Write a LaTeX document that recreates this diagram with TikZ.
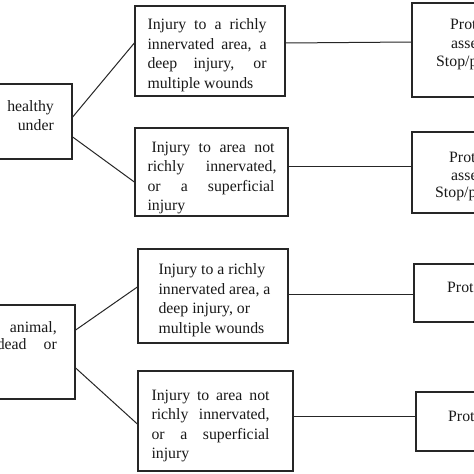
\documentclass[tikz,border=0pt]{standalone}
\usepackage{fontspec}
\setmainfont{Liberation Serif}
\usetikzlibrary{positioning}
\newcommand{\jline}[2]{\makebox[#1][s]{#2}}
\newcommand{\plainsp}{\spaceskip=0pt\xspaceskip=0pt\relax}
\begin{document}
\begin{tikzpicture}[x=1pt,y=-1pt,
    box/.style={draw=black!85, line width=1.3pt, rectangle, inner sep=0pt},
    txt/.style={font=\fontsize{15.8}{19.5}\selectfont, inner sep=0pt, text=black!90},
    para/.style={txt, anchor=north west, align=left},
    link/.style={draw=black!85, line width=1pt}]
    \clip (0,0) rectangle (474,474);
    \fill[white] (0,0) rectangle (474,474);
    % left boxes
    \node[box, minimum width=152pt, minimum height=75pt] (L1) at (-4,121.5) {};
    \node[txt, anchor=base east] (L1a) at (54,111) {healthy};
    \node[txt, anchor=base east] (L1b) at (54,130) {under};
    \node[box, minimum width=155pt, minimum height=94pt] (L2) at (-2.5,352) {};
    \node[txt, anchor=base east] (L2a) at (57,332.5) {animal,};
    \node[txt, anchor=base east] (L2b) at (57,349.5) {\plainsp\jline{60pt}{dead or}};
    % middle boxes
    \node[box, minimum width=150pt, minimum height=90pt] (M1) at (210,51) {};
    \node[para, text width=119pt] (M1t) at ([xshift=13pt,yshift=-13pt]M1.north west)
        {\plainsp\jline{119pt}{Injury to a richly}\\\jline{119pt}{innervated area, a}\\\jline{119pt}{deep injury, or}\\multiple wounds};
    \node[box, minimum width=153pt, minimum height=88pt] (M2) at (211.5,172) {};
    \node[para, text width=129pt] (M2t) at ([xshift=13pt,yshift=-14pt]M2.north west)
        {\plainsp\hspace*{4pt}\jline{123pt}{Injury to area not}\\\jline{129pt}{richly innervated,}\\\jline{127pt}{or a superficial}\\injury};
    \node[box, minimum width=150pt, minimum height=94pt] (M3) at (213,296) {};
    \node[para, text width=122pt] (M3t) at ([xshift=21pt,yshift=-15pt]M3.north west)
        {\plainsp Injury to a richly\\innervated area, a\\deep injury, or\\multiple wounds};
    \node[box, minimum width=155pt, minimum height=100pt] (M4) at (215.5,421) {};
    \node[para, text width=118pt] (M4t) at ([xshift=14pt,yshift=-19pt]M4.north west)
        {\plainsp\jline{118pt}{Injury to area not}\\\jline{118pt}{richly innervated,}\\\jline{118pt}{or a superficial}\\injury};
    % right boxes
    \node[box, minimum width=148pt, minimum height=94pt] (R1) at (486,50) {};
    \node[txt, anchor=base west] (R1a) at (450,29) {Prot};
    \node[txt, anchor=base west] (R1b) at (451,48) {asse};
    \node[txt, anchor=base west] (R1c) at (436,66.5) {Stop/p};
    \node[box, minimum width=148pt, minimum height=81pt] (R2) at (486,172.5) {};
    \node[txt, anchor=base west] (R2a) at (449,162) {Prot};
    \node[txt, anchor=base west] (R2b) at (451,180) {asse};
    \node[txt, anchor=base west] (R2c) at (435,197.5) {Stop/p};
    \node[box, minimum width=146pt, minimum height=58pt] (R3) at (487,293) {};
    \node[txt, anchor=base west] (R3a) at (447,292.5) {Prote};
    \node[box, minimum width=144pt, minimum height=59pt] (R4) at (488,421.5) {};
    \node[txt, anchor=base west] (R4a) at (448,421.5) {Prote};
    % connectors
    \draw[link] ([yshift=4.5pt]L1.east) -- ([yshift=8pt]M1.west);
    \draw[link] ([yshift=-15.5pt]L1.east) -- ([yshift=-10pt]M2.west);
    \draw[link] ([yshift=8pt]M1.east) -- ([yshift=8pt]R1.west);
    \draw[link] ([yshift=6pt]M2.east) -- ([yshift=6.5pt]R2.west);
    \draw[link] ([yshift=22pt]L2.east) -- ([yshift=9pt]M3.west);
    \draw[link] ([yshift=-16pt]L2.east) -- ([yshift=-3pt]M4.west);
    \draw[link] ([yshift=2pt]M3.east) -- ([yshift=-1pt]R3.west);
    \draw[link] ([yshift=5pt]M4.east) -- ([yshift=5.5pt]R4.west);
\end{tikzpicture}
\end{document}
